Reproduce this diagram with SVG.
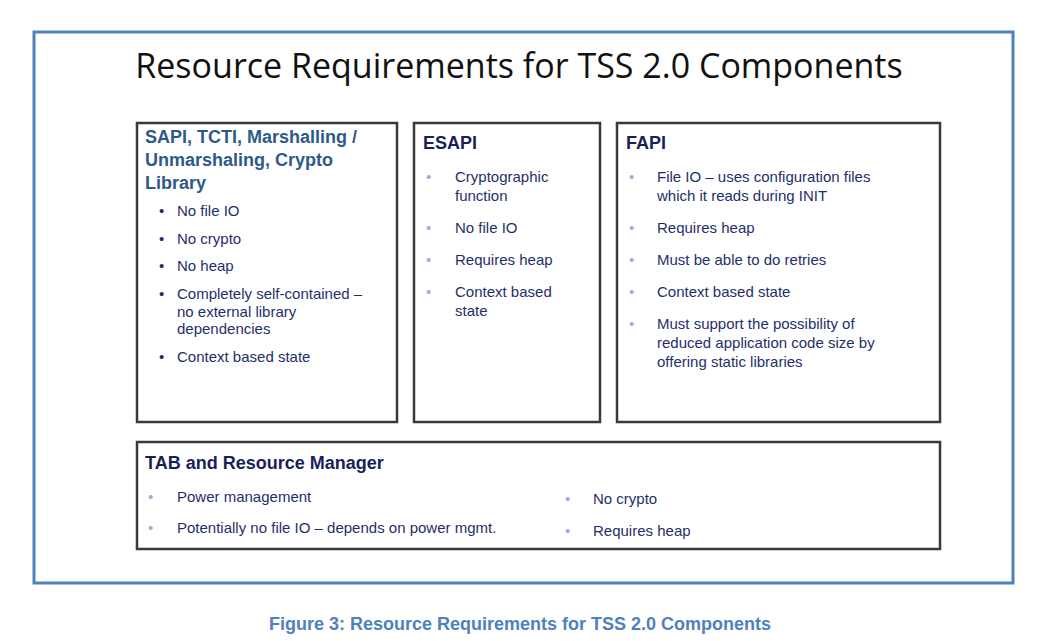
<svg xmlns="http://www.w3.org/2000/svg" width="1045" height="641" viewBox="0 0 1045 641">
<style>
.box{fill:#fff;stroke:#3a3a3a;stroke-width:2.5}
.h{font-family:"Liberation Sans",Arial,sans-serif;font-weight:bold;font-size:18px}
.t{font-family:"Liberation Sans",Arial,sans-serif;font-size:15px;fill:#1f2f6a}
.b1{fill:#1f3f7a}
.lb{fill:#95b3d7}
</style>
<rect width="1045" height="641" fill="#fff"/>
<rect x="34" y="32" width="979" height="551" fill="#fff" stroke="#4f81bd" stroke-width="3"/>
<text x="519" y="78" text-anchor="middle" font-family="Open Sans,Liberation Sans,sans-serif" font-size="34" fill="#111">Resource Requirements for TSS 2.0 Components</text>
<g id="sapi">
<rect class="box" x="137" y="123" width="260" height="299"/>
<text class="h" fill="#2e5a8a"><tspan x="145" y="143">SAPI, TCTI, Marshalling /</tspan><tspan x="145" y="166">Unmarshaling, Crypto</tspan><tspan x="145" y="189">Library</tspan></text>
<g class="t"><text x="159" y="216">•</text><text x="177" y="216">No file IO</text>
<text x="159" y="244">•</text><text x="177" y="244">No crypto</text>
<text x="159" y="271">•</text><text x="177" y="271">No heap</text>
<text x="159" y="299">•</text><text x="177" y="299">Completely self-contained –</text><text x="177" y="317">no external library</text><text x="177" y="334">dependencies</text>
<text x="159" y="362">•</text><text x="177" y="362">Context based state</text></g>
</g>
<g id="esapi">
<rect class="box" x="414" y="123" width="186" height="299"/>
<text class="h" x="423" y="149" fill="#1a1f5c">ESAPI</text>
<g class="t"><text class="lb" x="426" y="182">•</text><text x="455" y="182">Cryptographic</text><text x="455" y="201">function</text>
<text class="lb" x="426" y="233">•</text><text x="455" y="233">No file IO</text>
<text class="lb" x="426" y="265">•</text><text x="455" y="265">Requires heap</text>
<text class="lb" x="426" y="297">•</text><text x="455" y="297">Context based</text><text x="455" y="316">state</text></g>
</g>
<g id="fapi">
<rect class="box" x="617" y="123" width="323" height="299"/>
<text class="h" x="626" y="149" fill="#1a1f5c">FAPI</text>
<g class="t"><text class="lb" x="629" y="182">•</text><text x="657" y="182">File IO – uses configuration files</text><text x="657" y="201">which it reads during INIT</text>
<text class="lb" x="629" y="233">•</text><text x="657" y="233">Requires heap</text>
<text class="lb" x="629" y="265">•</text><text x="657" y="265">Must be able to do retries</text>
<text class="lb" x="629" y="297">•</text><text x="657" y="297">Context based state</text>
<text class="lb" x="629" y="329">•</text><text x="657" y="329">Must support the possibility of</text><text x="657" y="348">reduced application code size by</text><text x="657" y="367">offering static libraries</text></g>
</g>
<g id="tab">
<rect class="box" x="137" y="442" width="803" height="107"/>
<text class="h" x="145" y="469" fill="#1a1f5c">TAB and Resource Manager</text>
<g class="t"><text class="lb" x="148" y="502">•</text><text x="177" y="502">Power management</text>
<text class="lb" x="148" y="533">•</text><text x="177" y="533">Potentially no file IO – depends on power mgmt.</text>
<text class="lb" x="565" y="504">•</text><text x="593" y="504">No crypto</text>
<text class="lb" x="565" y="536">•</text><text x="593" y="536">Requires heap</text></g>
</g>
<g id="connectors"/>
<text x="520" y="630" text-anchor="middle" font-family="Liberation Sans,Arial,sans-serif" font-weight="bold" font-size="18" fill="#4f81bd">Figure 3: Resource Requirements for TSS 2.0 Components</text>
</svg>
